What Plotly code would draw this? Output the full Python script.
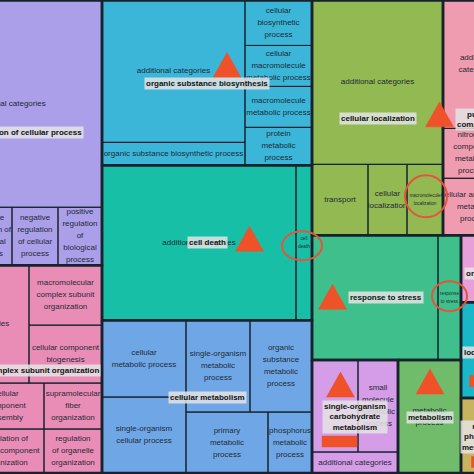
import plotly.graph_objects as go

# ---------------- data ----------------
group_names = [
    "regulation of cellular process",
    "macromolecular complex subunit organization",
    "organic substance biosynthesis",
    "cell death",
    "cellular metabolism",
    "cellular localization",
    "purine-containing compound metabolism",
    "response to stress",
    "single-organism carbohydrate metabolism",
    "metabolism",
    "organic acid metabolism",
    "locomotion",
    "ribose phosphate metabolism",
]
group_titles = [
    "regulation of cellular process",
    "macromolecular complex subunit organization",
    "organic substance biosynthesis",
    "cell death",
    "cellular metabolism",
    "cellular localization",
    "purine-containing<br>compound metabolism",
    "response to stress",
    "single-organism<br>carbohydrate<br>metabolism",
    "metabolism",
    "organic acid metabolism",
    "locomotion",
    "ribose<br>phosphate<br>metabolism",
]
group_label_x = [84, 101, 207, 207, 207, 377.5, 455, 386, 355, 429.5, 464, 462, 460]
group_label_y = [132.5, 370, 83, 242, 397, 118, 119, 297.5, 417, 417, 273, 352, 437]
group_label_anchor = ["right", "right", "center", "center", "center", "center", "left",
                      "center", "center", "center", "left", "left", "left"]

cell_labels = [
    "additional categories",
    "negative\nregulation of\nbiological\nprocess",
    "negative\nregulation\nof cellular\nprocess",
    "positive\nregulation\nof\nbiological\nprocess",
    "additional categories",
    "macromolecular\ncomplex subunit\norganization",
    "cellular component\nbiogenesis",
    "cellular\ncomponent\nassembly",
    "supramolecular\nfiber\norganization",
    "regulation of\ncellular component\norganization",
    "regulation\nof organelle\norganization",
    "additional categories",
    "organic substance biosynthetic process",
    "cellular\nbiosynthetic\nprocess",
    "cellular\nmacromolecule\nmetabolic process",
    "macromolecule\nmetabolic process",
    "protein\nmetabolic\nprocess",
    "additional categories",
    "cell\ndeath",
    "cellular\nmetabolic process",
    "single-organism\ncellular process",
    "single-organism\nmetabolic\nprocess",
    "organic\nsubstance\nmetabolic\nprocess",
    "primary\nmetabolic\nprocess",
    "phosphorus\nmetabolic\nprocess",
    "additional categories",
    "transport",
    "cellular\nlocalization",
    "macromolecule\nlocalization",
    "additional\ncategories",
    "nitrogen\ncompound\nmetabolic\nprocess",
    "cellular amino acid\nmetabolic\nprocess",
    "",
    "response\nto stress",
    "",
    "small\nmolecule\nmetabolic\nprocess",
    "additional categories",
    "metabolic\nprocess",
    "",
    "",
    "",
]
cell_group = [0, 0, 0, 0,
              1, 1, 1, 1, 1, 1, 1,
              2, 2, 2, 2, 2, 2,
              3, 3,
              4, 4, 4, 4, 4, 4,
              5, 5, 5, 5,
              6, 6, 6,
              7, 7,
              8, 8, 8,
              9,
              10, 11, 12]
cell_x0 = [-84, -34, 12, 58,
           -84, 29, 29, -32, 44, -32, 44,
           102, 102, 245, 245, 245, 245,
           102, 296,
           102, 102, 186, 250, 186, 268,
           312, 312, 368, 407,
           443, 443, 443,
           312, 438,
           312, 358, 312,
           398,
           461, 461, 461]
cell_x1 = [102, 12, 58, 102,
           29, 102, 102, 44, 102, 44, 102,
           245, 245, 312, 312, 312, 312,
           296, 312,
           186, 186, 250, 312, 268, 312,
           443, 368, 407, 443,
           511, 501, 505,
           438, 461,
           358, 398, 398,
           461,
           520, 520, 520]
cell_y0 = [0, 207, 207, 207,
           265, 265, 325, 383, 383, 429, 429,
           0, 142, 0, 45, 86, 127,
           165, 165,
           320, 397, 320, 320, 412, 412,
           0, 164, 164, 164,
           0, 128, 178,
           235, 235,
           360, 360, 452,
           360,
           235, 302, 398]
cell_y1 = [207, 265, 265, 265,
           383, 325, 383, 429, 429, 473, 473,
           142, 165, 45, 86, 127, 165,
           320, 320,
           397, 473, 412, 412, 473, 473,
           164, 235, 235, 235,
           128, 178, 235,
           360, 360,
           452, 452, 473,
           473,
           302, 398, 473]

tiny_labels = ["cell\ndeath", "response\nto stress", "macromolecule\nlocalization"]

triangle_x = [227, 249.5, 439.5, 332.5, 340.5, 430]
triangle_y = [64.5, 238.5, 114, 296.5, 384.5, 381.5]
block_x = [339.5, 487, 489]
block_y = [441.5, 381, 462]
ring_x = [302, 426, 449.5]
ring_y = [245.5, 196, 296]
ring_rx = [20, 21, 17.5]
ring_ry = [14.5, 21, 15]

# ---------------- style ----------------
GROUP_COLORS = {
    "regulation of cellular process": "#aa9fe8",
    "macromolecular complex subunit organization": "#ea8db6",
    "organic substance biosynthesis": "#3bb6d8",
    "cell death": "#17bfa6",
    "cellular metabolism": "#6fa7e6",
    "cellular localization": "#93b953",
    "purine-containing compound metabolism": "#ef9bb0",
    "response to stress": "#3fbf8c",
    "single-organism carbohydrate metabolism": "#d59de7",
    "metabolism": "#70bc6b",
    "organic acid metabolism": "#e69fd8",
    "locomotion": "#1ab7c9",
    "ribose phosphate metabolism": "#c8b45e",
}
EDGE = "#17222c"
TEXT = "#1f2a36"
MARK = "#ef5128"
FONT = "Liberation Sans, Arial, sans-serif"
TRI_W, TRI_H = 28, 25
BLK_W, BLK_H = 35, 11

fig = go.Figure()

# cells
for g, name in enumerate(group_names):
    xs, ys = [], []
    for i in range(len(cell_labels)):
        if cell_group[i] != g:
            continue
        xs += [cell_x0[i], cell_x1[i], cell_x1[i], cell_x0[i], cell_x0[i], None]
        ys += [cell_y0[i], cell_y0[i], cell_y1[i], cell_y1[i], cell_y0[i], None]
    fig.add_trace(go.Scatter(x=xs, y=ys, mode="lines", fill="toself",
                             fillcolor=GROUP_COLORS[name],
                             line=dict(color=EDGE, width=1),
                             hoverinfo="skip", showlegend=False))

# group outlines (bounding box of member cells)
gx, gy = [], []
for g in range(len(group_names)):
    idx = [i for i in range(len(cell_labels)) if cell_group[i] == g]
    x0 = min(cell_x0[i] for i in idx); x1 = max(cell_x1[i] for i in idx)
    y0 = min(cell_y0[i] for i in idx); y1 = max(cell_y1[i] for i in idx)
    gx += [x0, x1, x1, x0, x0, None]
    gy += [y0, y0, y1, y1, y0, None]
fig.add_trace(go.Scatter(x=gx, y=gy, mode="lines", line=dict(color=EDGE, width=2.5),
                         hoverinfo="skip", showlegend=False))

# cell labels, one point per text line
def text_points(small):
    tx, ty, tt = [], [], []
    for i, lab in enumerate(cell_labels):
        if not lab or ((lab in tiny_labels) != small):
            continue
        cx = (cell_x0[i] + cell_x1[i]) / 2
        cy = (cell_y0[i] + cell_y1[i]) / 2
        lines = lab.split("\n")
        step = 8.5 if small else 12
        n = len(lines)
        for k, t in enumerate(lines):
            tx.append(cx)
            ty.append(cy + (k - (n - 1) / 2) * step)
            tt.append(t)
    return tx, ty, tt

for small, size in [(False, 8), (True, 4.6)]:
    tx, ty, tt = text_points(small)
    fig.add_trace(go.Scatter(x=tx, y=ty, text=tt, mode="text", textposition="middle center",
                             textfont=dict(family=FONT, size=size, color=TEXT),
                             hoverinfo="skip", showlegend=False, cliponaxis=True))

# triangles
txs, tys = [], []
for cx, cy in zip(triangle_x, triangle_y):
    txs += [cx - TRI_W / 2, cx + TRI_W / 2, cx, cx - TRI_W / 2, None]
    tys += [cy + TRI_H / 2, cy + TRI_H / 2, cy - TRI_H / 2, cy + TRI_H / 2, None]
fig.add_trace(go.Scatter(x=txs, y=tys, mode="lines", fill="toself", fillcolor=MARK,
                         line=dict(color=MARK, width=0.5), hoverinfo="skip", showlegend=False))

# blocks
bxs, bys = [], []
for cx, cy in zip(block_x, block_y):
    bxs += [cx - BLK_W / 2, cx + BLK_W / 2, cx + BLK_W / 2, cx - BLK_W / 2, cx - BLK_W / 2, None]
    bys += [cy - BLK_H / 2, cy - BLK_H / 2, cy + BLK_H / 2, cy + BLK_H / 2, cy - BLK_H / 2, None]
fig.add_trace(go.Scatter(x=bxs, y=bys, mode="lines", fill="toself", fillcolor=MARK,
                         line=dict(color=MARK, width=0.5), hoverinfo="skip", showlegend=False))

# group labels
for t, x, y, a in zip(group_titles, group_label_x, group_label_y, group_label_anchor):
    fig.add_annotation(x=x, y=y, xref="x", yref="y", text="<b>" + t + "</b>",
                       showarrow=False, xanchor=a, yanchor="middle", align="center",
                       font=dict(family=FONT, size=8, color="#111111"),
                       bgcolor="rgba(228,228,228,0.85)", borderpad=1)

# rings
for cx, cy, rx, ry in zip(ring_x, ring_y, ring_rx, ring_ry):
    fig.add_shape(type="circle", xref="x", yref="y", x0=cx - rx, x1=cx + rx,
                  y0=cy - ry, y1=cy + ry, line=dict(color="#e4553a", width=2), layer="above")

fig.update_layout(
    width=474, height=474, margin=dict(l=0, r=0, t=0, b=0),
    paper_bgcolor="white", plot_bgcolor="white", showlegend=False,
    xaxis=dict(range=[0, 474], visible=False, fixedrange=True),
    yaxis=dict(range=[474, -0.5], visible=False, fixedrange=True),
)
fig.write_html("out.html", config={"displayModeBar": False},
               post_script="document.body.style.margin='0px';document.body.style.overflow='hidden';")
